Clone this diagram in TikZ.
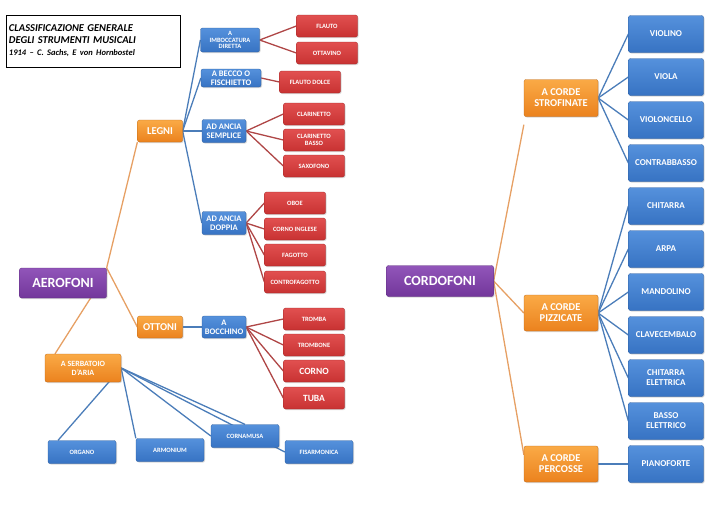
\documentclass[tikz,border=0pt]{standalone}
\usepackage{fontspec}
\setmainfont{Carlito}
\usetikzlibrary{shadows}
\pgfdeclarelayer{bg}\pgfsetlayers{bg,main}
\definecolor{rd}{RGB}{200,50,50}
\definecolor{rdt}{RGB}{225,80,80}
\definecolor{bl}{RGB}{55,115,195}
\definecolor{blt}{RGB}{85,145,220}
\definecolor{org}{RGB}{235,130,30}
\definecolor{orgt}{RGB}{250,170,70}
\definecolor{pur}{RGB}{115,55,155}
\definecolor{purt}{RGB}{145,85,185}
\definecolor{lbl}{RGB}{75,125,185}
\definecolor{lrd}{RGB}{175,70,70}
\definecolor{lor}{RGB}{230,160,100}
\tikzset{
 box/.style={rounded corners=2pt, text=white, font=\bfseries, align=center, inner sep=1pt,
   drop shadow={shadow xshift=1pt,shadow yshift=-1pt,opacity=0.3}},
 rbox/.style={box, top color=rdt, bottom color=rd, draw=rd!80!black, line width=0.3pt,
   minimum width=61pt, minimum height=22pt, font=\bfseries\fontsize{6.5}{7}\selectfont},
 bbox/.style={box, top color=blt, bottom color=bl, draw=bl!80!black, line width=0.3pt,
   font=\bfseries\fontsize{8.5}{9}\selectfont},
 obox/.style={box, top color=orgt, bottom color=org, draw=org!80!black, line width=0.3pt,
   font=\bfseries\fontsize{10.5}{11}\selectfont},
 pbox/.style={box, top color=purt, bottom color=pur, draw=pur!80!black, line width=0.3pt,
   font=\bfseries\fontsize{14}{15}\selectfont},
 lb/.style={draw=lbl, line width=1.3pt},
 lr/.style={draw=lrd, line width=1.3pt},
 lo/.style={draw=lor, line width=1.3pt},
}
\begin{document}
\begin{tikzpicture}[x=1pt,y=-1pt]
\useasboundingbox (0,0) rectangle (728,504);
% title
\node[draw=black, line width=0.8pt, minimum width=174pt, minimum height=52pt, align=left, inner sep=3pt, text width=168pt] (title) at (93,41)
 {\fontsize{10.5}{12}\selectfont\bfseries\itshape CLASSIFICAZIONE GENERALE\\
  \fontsize{10.5}{12}\selectfont\bfseries\itshape DEGLI STRUMENTI MUSICALI\\
  \fontsize{8.5}{10}\selectfont\itshape 1914 – C. Sachs, E von Hornbostel};
% main nodes
\node[pbox, minimum width=87pt, minimum height=30pt] (aero) at (63,283) {AEROFONI};
\node[pbox, minimum width=107pt, minimum height=31pt] (cordo) at (440,281) {CORDOFONI};
\node[obox, minimum width=45pt, minimum height=22pt] (legni) at (160,131) {LEGNI};
\node[obox, minimum width=45pt, minimum height=22pt] (ottoni) at (160,327) {OTTONI};
\node[obox, minimum width=76pt, minimum height=28pt, font=\bfseries\fontsize{8}{9}\selectfont] (serb) at (83,368) {A SERBATOIO\\D’ARIA};
% blue mid
\node[bbox, minimum width=59pt, minimum height=24pt, font=\bfseries\fontsize{6.5}{6.8}\selectfont] (imb) at (230,40) {A\\IMBOCCATURA\\DIRETTA};
\node[bbox, minimum width=60pt, minimum height=18pt] (becco) at (231,78) {A BECCO O\\FISCHIETTO};
\node[bbox, minimum width=44pt, minimum height=23pt] (sempl) at (224,131) {AD ANCIA\\SEMPLICE};
\node[bbox, minimum width=44pt, minimum height=23pt] (doppia) at (224,223) {AD ANCIA\\DOPPIA};
\node[bbox, minimum width=44pt, minimum height=22pt] (bocch) at (224,327) {A\\BOCCHINO};
% red
\node[rbox] (flauto) at (327,26) {FLAUTO};
\node[rbox] (ottav) at (327,53) {OTTAVINO};
\node[rbox] (fdolce) at (310,82) {FLAUTO DOLCE};
\node[rbox] (clar) at (314,114) {CLARINETTO};
\node[rbox] (clarb) at (314,140) {CLARINETTO\\BASSO};
\node[rbox] (sax) at (314,166) {SAXOFONO};
\node[rbox] (oboe) at (295,203) {OBOE};
\node[rbox] (cingl) at (295,229) {CORNO INGLESE};
\node[rbox] (fag) at (295,255) {FAGOTTO};
\node[rbox] (cfag) at (295,282) {CONTROFAGOTTO};
\node[rbox] (tromba) at (314,319) {TROMBA};
\node[rbox] (tromb) at (314,345) {TROMBONE};
\node[rbox, font=\bfseries\fontsize{9.5}{10}\selectfont] (corno) at (314,371) {CORNO};
\node[rbox, font=\bfseries\fontsize{9.5}{10}\selectfont] (tuba) at (314,398) {TUBA};
% bottom blue
\node[bbox, minimum width=68pt, minimum height=23pt, font=\bfseries\fontsize{6.5}{7}\selectfont] (organo) at (82,452) {ORGANO};
\node[bbox, minimum width=68pt, minimum height=23pt, font=\bfseries\fontsize{6.5}{7}\selectfont] (armon) at (170,450) {ARMONIUM};
\node[bbox, minimum width=68pt, minimum height=23pt, font=\bfseries\fontsize{6.5}{7}\selectfont] (corn) at (245,436) {CORNAMUSA};
\node[bbox, minimum width=68pt, minimum height=23pt, font=\bfseries\fontsize{6.5}{7}\selectfont] (fisa) at (319,452) {FISARMONICA};
% right
\node[obox, minimum width=74pt, minimum height=37pt] (strof) at (561,98) {A CORDE\\STROFINATE};
\node[obox, minimum width=74pt, minimum height=36pt] (pizz) at (561,313) {A CORDE\\PIZZICATE};
\node[obox, minimum width=74pt, minimum height=36pt] (perc) at (561,464) {A CORDE\\PERCOSSE};
\foreach \n/\t [count=\i from 0] in {violino/VIOLINO, viola/VIOLA, vcello/VIOLONCELLO, cbasso/CONTRABBASSO, chit/CHITARRA, arpa/ARPA, mand/MANDOLINO, clav/CLAVECEMBALO, chel/CHITARRA\\ELETTRICA, basso/BASSO\\ELETTRICO, piano/PIANOFORTE}
 \node[bbox, minimum width=75pt, minimum height=37pt, font=\bfseries\fontsize{9}{10}\selectfont] (\n) at (666,34+43*\i) {\t};
% connectors
\begin{pgfonlayer}{bg}
\draw[lo] (aero.north east) -- (legni.south west);
\draw[lo] (aero.north east) -- (ottoni.west);
\draw[lo] (aero.north east) ++(0,5) -- ([xshift=-28pt]serb.north);
\draw[lb] (legni.east) -- (imb.west);
\draw[lb] (legni.east) -- (becco.west);
\draw[lb] (legni.east) -- (sempl.west);
\draw[lb] (legni.east) -- (doppia.west);
\draw[lb] (ottoni.east) -- (bocch.west);
\foreach \a/\b in {imb/flauto, imb/ottav, becco/fdolce, sempl/clar, sempl/clarb, sempl/sax, doppia/oboe, doppia/cingl, doppia/fag, doppia/cfag, bocch/tromba, bocch/tromb, bocch/corno, bocch/tuba}
 \draw[lr] (\a.east) -- (\b.west);
\draw[lb] (serb.east) -- ([xshift=-24pt]organo.north);
\draw[lb] (serb.east) -- (armon.north west);
\draw[lb] (serb.east) -- (corn.west);
\draw[lb] (serb.east) -- (corn.north);
\draw[lb] (serb.east) -- (fisa.west);
\draw[lo] (cordo.east) -- ([yshift=-8pt]strof.south west);
\draw[lo] (cordo.east) -- (pizz.west);
\draw[lo] (cordo.east) -- ([yshift=-9pt]perc.north west);
\foreach \b in {violino, viola, vcello, cbasso} \draw[lb] (strof.east) -- (\b.west);
\foreach \b in {chit, arpa, mand, clav, chel, basso} \draw[lb] (pizz.east) -- (\b.west);
\draw[lb] (perc.east) -- (piano.west);
\end{pgfonlayer}
\end{tikzpicture}
\end{document}
